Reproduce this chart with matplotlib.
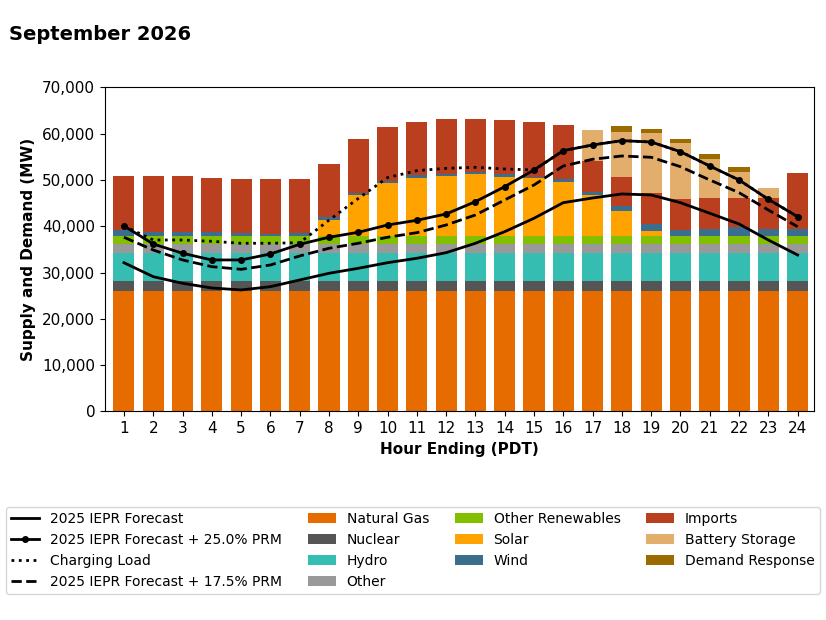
import numpy as np
import matplotlib
matplotlib.use("Agg")
import matplotlib.pyplot as plt
from matplotlib.ticker import FuncFormatter

# Hour ending labels
hours = list(range(1, 25))

# Supply stack (MW)
natural_gas = [26100] * 24
nuclear = [2150] * 24
hydro = [6050] * 24
other = [1880] * 24
other_renewables = [1790] * 24
solar = [0, 0, 0, 0, 0, 0, 0, 3390, 8790, 11450, 12530, 12960,
         13390, 12740, 12390, 11590, 8860, 5400, 1020, 0, 0, 0, 0, 0]
wind = [1230, 870, 870, 870, 580, 300, 580, 580, 370, 360, 580, 430,
        370, 650, 290, 590, 640, 1020, 1440, 1230, 1450, 1810, 1450, 1450]
imports = [11660, 12020, 12020, 11590, 11600, 11880, 11600, 11450, 11720, 11600, 11510, 11810,
           11440, 11530, 11870, 11790, 6700, 6320, 6700, 6630, 6760, 6400, 6760, 12010]
battery = [0, 0, 0, 0, 0, 0, 0, 0, 0, 0, 0, 0,
           0, 0, 0, 0, 6560, 9720, 12950, 12090, 8420, 5480, 2090, 0]
demand_response = [0, 0, 0, 0, 0, 0, 0, 0, 0, 0, 0, 0,
                   0, 0, 0, 0, 0, 1230, 930, 930, 1010, 1190, 0, 0]

# Demand lines (MW)
forecast = [32130, 29110, 27680, 26670, 26240, 26950, 28400, 29840, 30920, 32130, 33080, 34290,
            36320, 38830, 41720, 45090, 46100, 46970, 46750, 45090, 42800, 40490, 37030, 33790]
forecast_prm25 = [40060, 36170, 34160, 32720, 32720, 34010, 36100, 37620, 38690, 40270, 41280, 42650,
                  45310, 48550, 52150, 56320, 57550, 58480, 58190, 56100, 53010, 49990, 45820, 42070]
charging_load = [40060, 37030, 37030, 36750, 36320, 36320, 36450, 41300, 46000, 50500, 52000, 52500,
                 52720, 52360, 52150, 56320, 57550, 58480, 58190, 56100, 53010, 49990, 45820, 42070]
forecast_prm175 = [37620, 34870, 32720, 31270, 30700, 31630, 33580, 35240, 36320, 37620, 38610, 40270,
                   42430, 45670, 48910, 53010, 54460, 55170, 54890, 52860, 49990, 47250, 43510, 39900]

stack = [
    ("Natural Gas", natural_gas, "#E66C00"),
    ("Nuclear", nuclear, "#555555"),
    ("Hydro", hydro, "#35BDB2"),
    ("Other", other, "#999999"),
    ("Other Renewables", other_renewables, "#82BF00"),
    ("Solar", solar, "#FFA300"),
    ("Wind", wind, "#3B6D8E"),
    ("Imports", imports, "#B93F1F"),
    ("Battery Storage", battery, "#E3AE6B"),
    ("Demand Response", demand_response, "#9A6C00"),
]

fig = plt.figure(figsize=(8.26, 6.2), dpi=100)
ax = fig.add_axes([0.127, 0.3363, 0.8585, 0.5229])

x = np.array(hours)
bottom = np.zeros(24)
bar_handles = []
for name, vals, color in stack:
    vals = np.array(vals, dtype=float)
    b = ax.bar(x, vals, width=0.72, bottom=bottom, color=color, label=name, zorder=2)
    bar_handles.append(b)
    bottom += vals

l1, = ax.plot(x, forecast, color="black", lw=2, label="2025 IEPR Forecast", zorder=3)
l2, = ax.plot(x, forecast_prm25, color="black", lw=2, marker="o", ms=4,
              label="2025 IEPR Forecast + 25.0% PRM", zorder=4)
l3, = ax.plot(x, charging_load, color="black", lw=2, ls=":", label="Charging Load", zorder=3)
l4, = ax.plot(x, forecast_prm175, color="black", lw=2, ls="--",
              label="2025 IEPR Forecast + 17.5% PRM", zorder=3)

ax.set_xlim(0.35, 24.56)
ax.set_ylim(0, 70000)
ax.set_xticks(hours)
ax.set_yticks(range(0, 70001, 10000))
ax.yaxis.set_major_formatter(FuncFormatter(lambda v, p: f"{int(v):,}"))
ax.tick_params(labelsize=11)
ax.set_xlabel("Hour Ending (PDT)", fontsize=11, fontweight="bold")
ax.set_ylabel("Supply and Demand (MW)", fontsize=11, fontweight="bold")

fig.text(0.011, 1 - 34 / 620, "September 2026", fontsize=14, fontweight="bold", va="center")

handles = [l1, l2, l3, l4] + bar_handles
labels = [h.get_label() for h in handles]
fig.legend(handles, labels, loc="upper center", bbox_to_anchor=(0.5, 1 - 500 / 620),
           ncol=4, fontsize=10, columnspacing=1.85, borderpad=0.35)

plt.savefig("out.png", dpi=100)
plt.close(fig)
